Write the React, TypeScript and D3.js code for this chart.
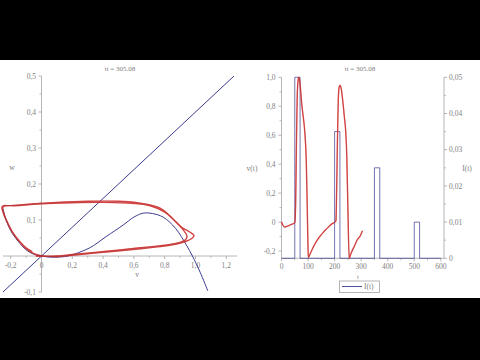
import React from 'react';
import * as d3 from 'd3';

// ---------- Left panel: phase plane (v, w) ----------
const lineV = [-0.25, 1.25];
const lineW = [-0.1, 0.5];

const cubicV = [-0.25, -0.23, -0.19, -0.14, -0.1, -0.056, 0, 0.05, 0.1, 0.17, 0.31, 0.42, 0.53, 0.6, 0.66, 0.72, 0.79, 0.87, 0.94, 0.98, 1.03, 1.08];
const cubicW = [0.132, 0.1, 0.063, 0.035, 0.017, 0.006, 0, -0.003, -0.003, 0, 0.022, 0.054, 0.086, 0.108, 0.119, 0.118, 0.108, 0.077, 0.031, 0.0, -0.045, -0.097];

const trajV = [0, -0.02, -0.035, -0.02, 0, 0.1, 0.2, 0.42, 0.64, 0.77, 0.85, 0.94, 0.98, 0.99, 0.965, 0.91, 0.85, 0.77, 0.64, 0.5, 0.3, 0.1, -0.05, -0.2, -0.255, -0.247, -0.23, -0.19, -0.14, -0.1, -0.056, -0.02, 0,
  0.1, 0.2, 0.42, 0.64, 0.8, 0.9, 0.935, 0.945, 0.925, 0.87, 0.8, 0.7, 0.6, 0.4, 0.2, 0.0, -0.15, -0.25, -0.243, -0.228, -0.19, -0.14, -0.1, -0.06];
const trajW = [0, -0.001, 0.0, 0.002, 0.001, -0.002, 0.002, 0.011, 0.02, 0.026, 0.031, 0.041, 0.05, 0.057, 0.066, 0.08, 0.105, 0.133, 0.147, 0.152, 0.152, 0.149, 0.145, 0.14, 0.138, 0.118, 0.1, 0.066, 0.038, 0.02, 0.008, 0.002, 0.0,
  0.0, 0.004, 0.013, 0.023, 0.03, 0.038, 0.045, 0.055, 0.07, 0.095, 0.122, 0.14, 0.146, 0.149, 0.148, 0.145, 0.14, 0.136, 0.116, 0.1, 0.068, 0.04, 0.023, 0.012];

const leftXTicks = [-0.2, 0, 0.2, 0.4, 0.6, 0.8, 1.0, 1.2];
const leftXMinor = [-0.1, 0.1, 0.3, 0.5, 0.7, 0.9, 1.1];
const leftYTicks = [-0.1, 0.1, 0.2, 0.3, 0.4, 0.5];
const leftYMinor = [-0.05, 0.05, 0.15, 0.25, 0.35, 0.45];

// ---------- Right panel: v(t) and I(t) ----------
const timeT = [0, 5, 12, 20, 30, 40, 50, 53, 56, 59, 62, 65, 68, 72, 76, 81, 86, 90, 93, 96, 99, 101, 110, 126, 140, 151, 165, 176, 190, 201, 205, 208, 211, 214, 217, 220, 224, 230, 236, 242, 246, 250, 255, 260, 268, 276, 286, 295, 305];
const voltV = [0, -0.02, -0.035, -0.03, -0.022, -0.014, -0.005, 0.1, 0.5, 0.85, 0.97, 1.0, 0.98, 0.91, 0.82, 0.74, 0.66, 0.56, 0.44, 0.2, -0.1, -0.245, -0.21, -0.15, -0.11, -0.085, -0.055, -0.035, -0.012, 0, 0.01, 0.25, 0.6, 0.85, 0.93, 0.945, 0.93, 0.85, 0.74, 0.62, 0.45, 0.1, -0.25, -0.225, -0.19, -0.16, -0.12, -0.1, -0.06];

const pulseStart = [50, 200, 350, 500];
const pulseEnd = [70, 220, 370, 520];
const pulseAmp = [0.05, 0.035, 0.025, 0.01];
const currentEndT = 600;

const rightXTicks = [0, 100, 200, 300, 400, 500, 600];
const rightXMinor = [50, 150, 250, 350, 450, 550];
const rightYTicks = [-0.2, 0, 0.2, 0.4, 0.6, 0.8, 1.0];
const rightYMinor = [-0.1, 0.1, 0.3, 0.5, 0.7, 0.9];
const rightITicks = [0, 0.01, 0.02, 0.03, 0.04, 0.05];
const rightIMinor = [0.005, 0.015, 0.025, 0.035, 0.045];

const titleText = 'tt = 305.08';

const fmt = (d: number, digits: number) => {
  if (d === 0) return '0';
  return d.toFixed(digits).replace('.', ',');
};

const AXIS = '#a3a3a3';
const TXT = '#808080';
const RED = '#e53b35';
const REDCORE = '#8e1f2c';
const BLUE = '#3d3d90';
const FONT = '"Liberation Serif", "DejaVu Serif", serif';
const FS = 7.5;

export default function App() {
  const xL = d3.scaleLinear().domain([-0.25, 1.25]).range([3, 234]);
  const yL = d3.scaleLinear().domain([-0.1, 0.5]).range([292, 76]);
  const xR = d3.scaleLinear().domain([0, 612]).range([281.5, 444]);
  const yR = d3.scaleLinear().domain([-0.25, 1.0]).range([258.3, 77.3]);
  const yI = d3.scaleLinear().domain([0, 0.05]).range([258.3, 77.3]);

  const lineGen = d3.line<[number, number]>().x(d => xL(d[0])).y(d => yL(d[1]));
  const smoothGen = d3.line<[number, number]>().x(d => xL(d[0])).y(d => yL(d[1])).curve(d3.curveCatmullRom.alpha(0.5));

  const linePts = lineV.map((v, i) => [v, lineW[i]] as [number, number]);
  const cubicPts = cubicV.map((v, i) => [v, cubicW[i]] as [number, number]);
  const trajPts = trajV.map((v, i) => [v, trajW[i]] as [number, number]);

  const vGen = d3.line<[number, number]>().x(d => xR(d[0])).y(d => yR(d[1])).curve(d3.curveMonotoneX);
  const vPts = timeT.map((t, i) => [t, voltV[i]] as [number, number]);

  const iPts: [number, number][] = [[0, 0]];
  pulseStart.forEach((s, i) => {
    iPts.push([s, 0], [s, pulseAmp[i]], [pulseEnd[i], pulseAmp[i]], [pulseEnd[i], 0]);
  });
  iPts.push([currentEndT, 0]);
  const iGen = d3.line<[number, number]>().x(d => xR(d[0])).y(d => yI(d[1]));

  const x0L = xL(0);
  const y0L = yL(0);
  const xRight = xR(612);
  const yBot = yR(-0.25);

  return (
    <svg width={480} height={360} style={{ position: 'absolute', left: 0, top: 0 }} fontFamily={FONT}>
      <rect x={0} y={0} width={480} height={360} fill="#000" />
      <rect x={0} y={60} width={480} height={238} fill="#fff" />

      {/* ---------- Left panel ---------- */}
      <text x={120} y={70.5} fontSize={7} fill={TXT} textAnchor="middle">{titleText}</text>
      <line x1={xL.range()[0]} x2={237} y1={y0L} y2={y0L} stroke={AXIS} strokeWidth={0.8} />
      <line x1={x0L} x2={x0L} y1={yL(-0.1)} y2={yL(0.5)} stroke={AXIS} strokeWidth={0.8} />
      {leftXTicks.map(t => (
        <g key={'lx' + t}>
          <line x1={xL(t)} x2={xL(t)} y1={y0L} y2={y0L + 3} stroke={AXIS} strokeWidth={0.8} />
          <text x={xL(t)} y={y0L + 11.5} fontSize={FS} fill={TXT} textAnchor="middle">{fmt(t, 1)}</text>
        </g>
      ))}
      {leftXMinor.map(t => (
        <line key={'lxm' + t} x1={xL(t)} x2={xL(t)} y1={y0L} y2={y0L + 2} stroke={AXIS} strokeWidth={0.7} />
      ))}
      {leftYTicks.map(t => (
        <g key={'ly' + t}>
          <line x1={x0L - 3} x2={x0L} y1={yL(t)} y2={yL(t)} stroke={AXIS} strokeWidth={0.8} />
          <text x={x0L - 5.5} y={yL(t) + 2.6} fontSize={FS} fill={TXT} textAnchor="end">{fmt(t, 1)}</text>
        </g>
      ))}
      {leftYMinor.map(t => (
        <line key={'lym' + t} x1={x0L - 2} x2={x0L} y1={yL(t)} y2={yL(t)} stroke={AXIS} strokeWidth={0.7} />
      ))}
      <text x={12} y={169.5} fontSize={FS} fill={TXT} textAnchor="middle">w</text>
      <text x={137} y={277} fontSize={FS} fill={TXT} textAnchor="middle">v</text>

      <path d={lineGen(linePts) || ''} fill="none" stroke={BLUE} strokeWidth={1} />
      <path d={smoothGen(cubicPts) || ''} fill="none" stroke={BLUE} strokeWidth={1} />
      <path d={smoothGen(trajPts) || ''} fill="none" stroke={RED} strokeWidth={1.4} strokeOpacity={0.85} strokeLinejoin="round" />
      <path d={smoothGen(trajPts) || ''} fill="none" stroke={REDCORE} strokeWidth={0.5} strokeOpacity={0.75} strokeLinejoin="round" />

      {/* ---------- Right panel ---------- */}
      <text x={360} y={70.5} fontSize={7} fill={TXT} textAnchor="middle">{titleText}</text>
      <line x1={xR(0)} x2={xRight} y1={yBot} y2={yBot} stroke={AXIS} strokeWidth={0.8} />
      <line x1={xR(0)} x2={xR(0)} y1={yBot} y2={yR(1.0)} stroke={AXIS} strokeWidth={0.8} />
      <line x1={xRight} x2={xRight} y1={yI(0)} y2={yI(0.05)} stroke={AXIS} strokeWidth={0.8} />
      {rightXTicks.map(t => (
        <g key={'rx' + t}>
          <line x1={xR(t)} x2={xR(t)} y1={yBot} y2={yBot + 3} stroke={AXIS} strokeWidth={0.8} />
          <text x={xR(t)} y={yBot + 11} fontSize={FS} fill={TXT} textAnchor="middle">{String(t)}</text>
        </g>
      ))}
      {rightXMinor.map(t => (
        <line key={'rxm' + t} x1={xR(t)} x2={xR(t)} y1={yBot} y2={yBot + 2} stroke={AXIS} strokeWidth={0.7} />
      ))}
      {rightYTicks.map(t => (
        <g key={'ry' + t}>
          <line x1={xR(0) - 3} x2={xR(0)} y1={yR(t)} y2={yR(t)} stroke={AXIS} strokeWidth={0.8} />
          <text x={xR(0) - 6} y={yR(t) + 2.6} fontSize={FS} fill={TXT} textAnchor="end">{fmt(t, 1)}</text>
        </g>
      ))}
      {rightYMinor.map(t => (
        <line key={'rym' + t} x1={xR(0) - 2} x2={xR(0)} y1={yR(t)} y2={yR(t)} stroke={AXIS} strokeWidth={0.7} />
      ))}
      {rightITicks.map(t => (
        <g key={'ri' + t}>
          <line x1={xRight} x2={xRight + 3} y1={yI(t)} y2={yI(t)} stroke={AXIS} strokeWidth={0.8} />
          <text x={xRight + 5} y={yI(t) + 2.6} fontSize={FS} fill={TXT} textAnchor="start">{fmt(t, 2)}</text>
        </g>
      ))}
      {rightIMinor.map(t => (
        <line key={'rim' + t} x1={xRight} x2={xRight + 2} y1={yI(t)} y2={yI(t)} stroke={AXIS} strokeWidth={0.7} />
      ))}
      <text x={252} y={170.5} fontSize={FS} fill={TXT} textAnchor="middle">v(t)</text>
      <text x={467} y={170.5} fontSize={FS} fill={TXT} textAnchor="middle">I(t)</text>
      <text x={358} y={278.5} fontSize={6.5} fill={TXT} textAnchor="middle">t</text>

      <path d={iGen(iPts) || ''} fill="none" stroke={BLUE} strokeWidth={0.9} strokeOpacity={0.8} />
      <path d={vGen(vPts) || ''} fill="none" stroke={RED} strokeWidth={1.4} strokeOpacity={0.85} />
      <path d={vGen(vPts) || ''} fill="none" stroke={REDCORE} strokeWidth={0.5} strokeOpacity={0.75} />

      <rect x={339.5} y={281} width={40} height={11.5} fill="#fff" stroke={AXIS} strokeWidth={0.8} />
      <line x1={342} x2={362} y1={286.5} y2={286.5} stroke={BLUE} strokeWidth={0.9} />
      <text x={364} y={289.3} fontSize={FS} fill={TXT}>I(t)</text>
    </svg>
  );
}
